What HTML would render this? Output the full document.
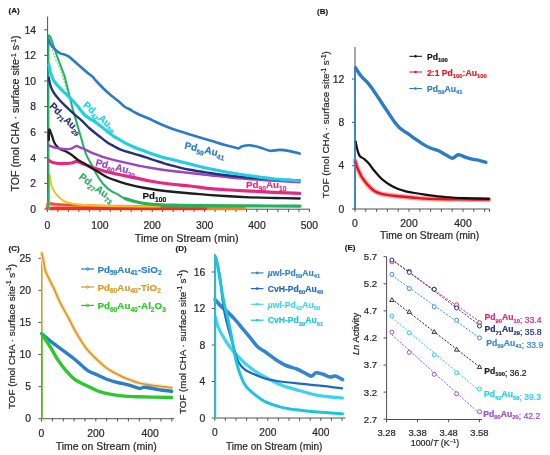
<!DOCTYPE html>
<html><head><meta charset="utf-8"><style>
html,body{margin:0;padding:0;background:#fff;width:550px;height:455px;overflow:hidden;}
svg{display:block;filter:blur(0.3px);font-family:"Liberation Sans", sans-serif;}
</style></head><body>
<svg width="550" height="455" viewBox="0 0 550 455">
<rect width="550" height="455" fill="#ffffff"/>
<text x="8.60" y="13.40" font-size="8.0" fill="#1a1a1a" stroke="#1a1a1a" stroke-width="0.18" font-weight="bold" text-anchor="start" >(A)</text>
<line x1="47.60" y1="16.50" x2="47.60" y2="209.20" stroke="#505050" stroke-width="1.0" />
<line x1="47.60" y1="209.20" x2="310.00" y2="209.20" stroke="#505050" stroke-width="1.0" />
<line x1="44.30" y1="209.00" x2="47.60" y2="209.00" stroke="#505050" stroke-width="1.0" />
<text x="36.00" y="212.70" font-size="10.4" fill="#2a2a2a" stroke="#2a2a2a" stroke-width="0.22" text-anchor="end" >0</text>
<line x1="44.30" y1="183.40" x2="47.60" y2="183.40" stroke="#505050" stroke-width="1.0" />
<text x="36.00" y="187.10" font-size="10.4" fill="#2a2a2a" stroke="#2a2a2a" stroke-width="0.22" text-anchor="end" >2</text>
<line x1="44.30" y1="157.80" x2="47.60" y2="157.80" stroke="#505050" stroke-width="1.0" />
<text x="36.00" y="161.50" font-size="10.4" fill="#2a2a2a" stroke="#2a2a2a" stroke-width="0.22" text-anchor="end" >4</text>
<line x1="44.30" y1="132.20" x2="47.60" y2="132.20" stroke="#505050" stroke-width="1.0" />
<text x="36.00" y="135.90" font-size="10.4" fill="#2a2a2a" stroke="#2a2a2a" stroke-width="0.22" text-anchor="end" >6</text>
<line x1="44.30" y1="106.60" x2="47.60" y2="106.60" stroke="#505050" stroke-width="1.0" />
<text x="36.00" y="110.30" font-size="10.4" fill="#2a2a2a" stroke="#2a2a2a" stroke-width="0.22" text-anchor="end" >8</text>
<line x1="44.30" y1="81.00" x2="47.60" y2="81.00" stroke="#505050" stroke-width="1.0" />
<text x="36.00" y="84.70" font-size="10.4" fill="#2a2a2a" stroke="#2a2a2a" stroke-width="0.22" text-anchor="end" >10</text>
<line x1="44.30" y1="55.40" x2="47.60" y2="55.40" stroke="#505050" stroke-width="1.0" />
<text x="36.00" y="59.10" font-size="10.4" fill="#2a2a2a" stroke="#2a2a2a" stroke-width="0.22" text-anchor="end" >12</text>
<line x1="44.30" y1="29.80" x2="47.60" y2="29.80" stroke="#505050" stroke-width="1.0" />
<text x="36.00" y="33.50" font-size="10.4" fill="#2a2a2a" stroke="#2a2a2a" stroke-width="0.22" text-anchor="end" >14</text>
<line x1="47.40" y1="209.20" x2="47.40" y2="212.00" stroke="#505050" stroke-width="1.0" />
<line x1="57.88" y1="209.20" x2="57.88" y2="212.00" stroke="#505050" stroke-width="1.0" />
<line x1="68.36" y1="209.20" x2="68.36" y2="212.00" stroke="#505050" stroke-width="1.0" />
<line x1="78.84" y1="209.20" x2="78.84" y2="212.00" stroke="#505050" stroke-width="1.0" />
<line x1="89.32" y1="209.20" x2="89.32" y2="212.00" stroke="#505050" stroke-width="1.0" />
<line x1="99.80" y1="209.20" x2="99.80" y2="212.00" stroke="#505050" stroke-width="1.0" />
<line x1="110.28" y1="209.20" x2="110.28" y2="212.00" stroke="#505050" stroke-width="1.0" />
<line x1="120.76" y1="209.20" x2="120.76" y2="212.00" stroke="#505050" stroke-width="1.0" />
<line x1="131.24" y1="209.20" x2="131.24" y2="212.00" stroke="#505050" stroke-width="1.0" />
<line x1="141.72" y1="209.20" x2="141.72" y2="212.00" stroke="#505050" stroke-width="1.0" />
<line x1="152.20" y1="209.20" x2="152.20" y2="212.00" stroke="#505050" stroke-width="1.0" />
<line x1="162.68" y1="209.20" x2="162.68" y2="212.00" stroke="#505050" stroke-width="1.0" />
<line x1="173.16" y1="209.20" x2="173.16" y2="212.00" stroke="#505050" stroke-width="1.0" />
<line x1="183.64" y1="209.20" x2="183.64" y2="212.00" stroke="#505050" stroke-width="1.0" />
<line x1="194.12" y1="209.20" x2="194.12" y2="212.00" stroke="#505050" stroke-width="1.0" />
<line x1="204.60" y1="209.20" x2="204.60" y2="212.00" stroke="#505050" stroke-width="1.0" />
<line x1="215.08" y1="209.20" x2="215.08" y2="212.00" stroke="#505050" stroke-width="1.0" />
<line x1="225.56" y1="209.20" x2="225.56" y2="212.00" stroke="#505050" stroke-width="1.0" />
<line x1="236.04" y1="209.20" x2="236.04" y2="212.00" stroke="#505050" stroke-width="1.0" />
<line x1="246.52" y1="209.20" x2="246.52" y2="212.00" stroke="#505050" stroke-width="1.0" />
<line x1="257.00" y1="209.20" x2="257.00" y2="212.00" stroke="#505050" stroke-width="1.0" />
<line x1="267.48" y1="209.20" x2="267.48" y2="212.00" stroke="#505050" stroke-width="1.0" />
<line x1="277.96" y1="209.20" x2="277.96" y2="212.00" stroke="#505050" stroke-width="1.0" />
<line x1="288.44" y1="209.20" x2="288.44" y2="212.00" stroke="#505050" stroke-width="1.0" />
<line x1="298.92" y1="209.20" x2="298.92" y2="212.00" stroke="#505050" stroke-width="1.0" />
<line x1="309.40" y1="209.20" x2="309.40" y2="212.00" stroke="#505050" stroke-width="1.0" />
<text x="47.40" y="228.80" font-size="10.4" fill="#2a2a2a" stroke="#2a2a2a" stroke-width="0.22" text-anchor="middle" >0</text>
<text x="99.80" y="228.80" font-size="10.4" fill="#2a2a2a" stroke="#2a2a2a" stroke-width="0.22" text-anchor="middle" >100</text>
<text x="152.20" y="228.80" font-size="10.4" fill="#2a2a2a" stroke="#2a2a2a" stroke-width="0.22" text-anchor="middle" >200</text>
<text x="204.60" y="228.80" font-size="10.4" fill="#2a2a2a" stroke="#2a2a2a" stroke-width="0.22" text-anchor="middle" >300</text>
<text x="257.00" y="228.80" font-size="10.4" fill="#2a2a2a" stroke="#2a2a2a" stroke-width="0.22" text-anchor="middle" >400</text>
<text x="309.40" y="228.80" font-size="10.4" fill="#2a2a2a" stroke="#2a2a2a" stroke-width="0.22" text-anchor="middle" >500</text>
<text x="186.70" y="242.00" font-size="10.8" fill="#2a2a2a" stroke="#2a2a2a" stroke-width="0.22" text-anchor="middle" >Time on Stream (min)</text>
<text x="19.30" y="113.50" font-size="10.55" fill="#2a2a2a" stroke="#2a2a2a" stroke-width="0.22" text-anchor="middle" transform="rotate(-90 19.30 113.50)" >TOF (mol CHA · surface site<tspan font-size='6.7' dy='-3.6'>-1</tspan><tspan dy='3.6'> s</tspan><tspan font-size='6.7' dy='-3.6'>-1</tspan><tspan dy='3.6'>)</tspan></text>
<path d="M47.60,207.00 C47.73,206.42 48.00,204.00 48.40,203.50 C48.80,203.00 48.73,203.75 50.00,204.00 C51.27,204.25 52.67,204.70 56.00,205.00 C59.33,205.30 62.67,205.53 70.00,205.80 C77.33,206.07 86.67,206.35 100.00,206.60 C113.33,206.85 132.50,207.10 150.00,207.30 C167.50,207.50 195.83,207.72 205.00,207.80" fill="none" stroke="#f69080" stroke-width="4.4" stroke-linejoin="round" stroke-linecap="round" />
<polyline points="205.00,208.60 244.50,208.60" fill="none" stroke="#f5821f" stroke-width="3.2" stroke-linejoin="round" stroke-linecap="round" />
<path d="M47.60,208.60 C49.67,208.60 47.93,208.60 60.00,208.60 C72.07,208.60 95.75,208.60 120.00,208.60 C144.25,208.60 191.25,208.60 205.50,208.60" fill="none" stroke="#f0321a" stroke-width="3.4" stroke-linejoin="round" stroke-linecap="round" />
<path d="M47.60,206.00 C47.73,205.42 48.00,202.97 48.40,202.50 C48.80,202.03 48.23,202.87 50.00,203.20 C51.77,203.53 54.00,204.13 59.00,204.50 C64.00,204.87 69.83,205.10 80.00,205.40 C90.17,205.70 99.17,206.00 120.00,206.30 C140.83,206.60 190.83,207.05 205.00,207.20" fill="none" stroke="#f04a3a" stroke-width="2.0" stroke-linejoin="round" stroke-linecap="round" />
<path d="M48.80,209.00 C48.88,203.50 49.02,180.67 49.30,176.00 C49.58,171.33 50.05,179.17 50.50,181.00 C50.95,182.83 51.42,185.33 52.00,187.00 C52.58,188.67 53.17,189.67 54.00,191.00 C54.83,192.33 55.83,193.67 57.00,195.00 C58.17,196.33 59.50,197.83 61.00,199.00 C62.50,200.17 63.83,201.17 66.00,202.00 C68.17,202.83 71.00,203.50 74.00,204.00 C77.00,204.50 79.83,204.70 84.00,205.00 C88.17,205.30 91.33,205.58 99.00,205.80 C106.67,206.02 119.83,206.17 130.00,206.30 C140.17,206.43 155.00,206.55 160.00,206.60" fill="none" stroke="#f6c21c" stroke-width="2.0" stroke-linejoin="round" stroke-linecap="round" />
<polyline points="48.60,209.00 48.60,36.50" fill="none" stroke="#22b35e" stroke-width="1.6" stroke-linejoin="round" stroke-linecap="round" />
<path d="M48.60,36.50 C48.72,36.28 48.90,34.90 49.30,35.20 C49.70,35.50 50.40,36.83 51.00,38.30 C51.60,39.77 51.93,41.13 52.90,44.00 C53.87,46.87 55.52,51.88 56.80,55.50 C58.08,59.12 59.33,62.30 60.60,65.70 C61.87,69.10 63.17,71.85 64.40,75.90 C65.63,79.95 66.98,85.98 68.00,90.00 C69.02,94.02 69.67,96.67 70.50,100.00 C71.33,103.33 72.00,106.33 73.00,110.00 C74.00,113.67 75.33,118.00 76.50,122.00 C77.67,126.00 78.42,128.67 80.00,134.00 C81.58,139.33 83.93,148.67 86.00,154.00 C88.07,159.33 90.72,162.77 92.40,166.00 C94.08,169.23 94.70,170.93 96.10,173.40 C97.50,175.87 99.25,178.65 100.80,180.80 C102.35,182.95 103.72,184.62 105.40,186.30 C107.08,187.98 108.80,189.52 110.90,190.90 C113.00,192.28 115.65,193.33 118.00,194.60 C120.35,195.87 122.17,197.35 125.00,198.50 C127.83,199.65 131.67,200.67 135.00,201.50 C138.33,202.33 140.83,202.95 145.00,203.50 C149.17,204.05 154.17,204.50 160.00,204.80 C165.83,205.10 173.33,205.17 180.00,205.30 C186.67,205.43 188.33,205.50 200.00,205.60 C211.67,205.70 233.33,205.82 250.00,205.90 C266.67,205.98 291.67,206.07 300.00,206.10" fill="none" stroke="#22b35e" stroke-width="2.0" stroke-linejoin="round" stroke-linecap="round" />
<path d="M125.00,198.50 C126.67,199.00 131.67,200.67 135.00,201.50 C138.33,202.33 140.83,202.95 145.00,203.50 C149.17,204.05 154.17,204.50 160.00,204.80 C165.83,205.10 173.33,205.17 180.00,205.30 C186.67,205.43 188.33,205.50 200.00,205.60 C211.67,205.70 233.33,205.82 250.00,205.90 C266.67,205.98 291.67,206.07 300.00,206.10" fill="none" stroke="#22b35e" stroke-width="3.2" stroke-linejoin="round" stroke-linecap="round" />
<path d="M50.50,40.00 C50.90,41.95 51.85,48.05 52.90,51.70 C53.95,55.35 55.42,58.50 56.80,61.90 C58.18,65.30 59.83,68.28 61.20,72.10 C62.57,75.92 63.53,80.15 65.00,84.80 C66.47,89.45 69.17,97.47 70.00,100.00" fill="none" stroke="#7fd8a0" stroke-width="1.2" stroke-linejoin="round" stroke-linecap="round" stroke-dasharray="1.2 2.2"/>
<path d="M48.80,160.30 C49.47,160.67 50.85,161.95 52.80,162.50 C54.75,163.05 57.38,163.52 60.50,163.60 C63.62,163.68 68.75,163.37 71.50,163.00 C74.25,162.63 75.17,161.30 77.00,161.40 C78.83,161.50 80.67,162.87 82.50,163.60 C84.33,164.33 86.25,165.10 88.00,165.80 C89.75,166.50 91.00,167.13 93.00,167.80 C95.00,168.47 97.38,169.07 100.00,169.80 C102.62,170.53 104.47,171.18 108.70,172.20 C112.93,173.22 120.52,174.87 125.40,175.90 C130.28,176.93 133.90,177.55 138.00,178.40 C142.10,179.25 144.67,180.07 150.00,181.00 C155.33,181.93 163.33,183.17 170.00,184.00 C176.67,184.83 183.33,185.23 190.00,186.00 C196.67,186.77 203.33,187.93 210.00,188.60 C216.67,189.27 221.67,189.50 230.00,190.00 C238.33,190.50 251.67,191.17 260.00,191.60 C268.33,192.03 273.38,192.30 280.00,192.60 C286.62,192.90 296.42,193.27 299.70,193.40" fill="none" stroke="#e8287e" stroke-width="3.2" stroke-linejoin="round" stroke-linecap="round" />
<path d="M48.80,140.00 C48.87,138.27 48.72,130.43 49.20,129.60 C49.68,128.77 50.92,133.00 51.70,135.00 C52.48,137.00 53.17,139.87 53.90,141.60 C54.63,143.33 55.00,144.12 56.10,145.40 C57.20,146.68 58.85,148.28 60.50,149.30 C62.15,150.32 64.17,150.58 66.00,151.50 C67.83,152.42 69.67,153.52 71.50,154.80 C73.33,156.08 75.17,157.92 77.00,159.20 C78.83,160.48 80.67,161.40 82.50,162.50 C84.33,163.60 86.08,164.65 88.00,165.80 C89.92,166.95 92.00,168.20 94.00,169.40 C96.00,170.60 97.78,171.68 100.00,173.00 C102.22,174.32 104.00,175.83 107.30,177.30 C110.60,178.77 115.63,180.45 119.80,181.80 C123.97,183.15 128.13,184.37 132.30,185.40 C136.47,186.43 140.65,187.23 144.80,188.00 C148.95,188.77 152.17,189.33 157.20,190.00 C162.23,190.67 167.88,191.30 175.00,192.00 C182.12,192.70 191.58,193.53 199.90,194.20 C208.22,194.87 216.58,195.48 224.90,196.00 C233.22,196.52 241.48,196.97 249.80,197.30 C258.12,197.63 266.48,197.80 274.80,198.00 C283.12,198.20 295.55,198.42 299.70,198.50" fill="none" stroke="#1e1e1e" stroke-width="2.3" stroke-linejoin="round" stroke-linecap="round" />
<path d="M48.80,145.40 C49.83,145.77 53.05,147.05 55.00,147.60 C56.95,148.15 58.67,148.42 60.50,148.70 C62.33,148.98 64.17,149.30 66.00,149.30 C67.83,149.30 69.77,149.25 71.50,148.70 C73.23,148.15 74.93,146.18 76.40,146.00 C77.87,145.82 78.73,146.97 80.30,147.60 C81.87,148.23 83.85,148.93 85.80,149.80 C87.75,150.67 89.63,151.80 92.00,152.80 C94.37,153.80 97.22,154.83 100.00,155.80 C102.78,156.77 104.47,157.45 108.70,158.60 C112.93,159.75 120.52,161.55 125.40,162.70 C130.28,163.85 133.90,164.65 138.00,165.50 C142.10,166.35 144.67,166.92 150.00,167.80 C155.33,168.68 163.33,169.93 170.00,170.80 C176.67,171.67 183.33,172.27 190.00,173.00 C196.67,173.73 203.33,174.43 210.00,175.20 C216.67,175.97 223.33,176.93 230.00,177.60 C236.67,178.27 242.53,178.67 250.00,179.20 C257.47,179.73 266.52,180.30 274.80,180.80 C283.08,181.30 295.55,181.97 299.70,182.20" fill="none" stroke="#9a46c2" stroke-width="2.4" stroke-linejoin="round" stroke-linecap="round" />
<path d="M48.80,77.80 C49.00,78.83 49.47,82.05 50.00,84.00 C50.53,85.95 51.17,87.75 52.00,89.50 C52.83,91.25 53.67,92.67 55.00,94.50 C56.33,96.33 58.28,98.62 60.00,100.50 C61.72,102.38 62.80,103.42 65.30,105.80 C67.80,108.18 72.25,112.33 75.00,114.80 C77.75,117.27 79.35,118.32 81.80,120.60 C84.25,122.88 86.78,125.90 89.70,128.50 C92.62,131.10 96.42,133.92 99.30,136.20 C102.18,138.48 104.55,140.53 107.00,142.20 C109.45,143.87 111.83,145.02 114.00,146.20 C116.17,147.38 117.33,148.23 120.00,149.30 C122.67,150.37 126.67,151.57 130.00,152.60 C133.33,153.63 136.67,154.47 140.00,155.50 C143.33,156.53 146.67,157.72 150.00,158.80 C153.33,159.88 156.67,160.97 160.00,162.00 C163.33,163.03 165.00,163.70 170.00,165.00 C175.00,166.30 183.33,168.47 190.00,169.80 C196.67,171.13 203.33,172.00 210.00,173.00 C216.67,174.00 223.33,175.00 230.00,175.80 C236.67,176.60 242.53,177.18 250.00,177.80 C257.47,178.42 266.52,179.05 274.80,179.50 C283.08,179.95 295.55,180.33 299.70,180.50" fill="none" stroke="#24307e" stroke-width="2.4" stroke-linejoin="round" stroke-linecap="round" />
<path d="M48.80,64.40 C49.07,65.68 49.78,69.83 50.40,72.10 C51.02,74.37 51.90,76.52 52.50,78.00 C53.10,79.48 53.08,79.67 54.00,81.00 C54.92,82.33 56.50,84.33 58.00,86.00 C59.50,87.67 61.33,89.33 63.00,91.00 C64.67,92.67 66.33,94.33 68.00,96.00 C69.67,97.67 71.33,99.25 73.00,101.00 C74.67,102.75 76.83,105.08 78.00,106.50 C79.17,107.92 78.87,108.08 80.00,109.50 C81.13,110.92 83.18,113.48 84.80,115.00 C86.42,116.52 88.08,117.53 89.70,118.60 C91.32,119.67 92.90,120.33 94.50,121.40 C96.10,122.47 97.53,123.63 99.30,125.00 C101.07,126.37 103.48,128.30 105.10,129.60 C106.72,130.90 107.55,131.67 109.00,132.80 C110.45,133.93 112.18,135.33 113.80,136.40 C115.42,137.47 116.83,138.13 118.70,139.20 C120.57,140.27 122.28,141.42 125.00,142.80 C127.72,144.18 131.67,146.08 135.00,147.50 C138.33,148.92 142.50,150.35 145.00,151.30 C147.50,152.25 147.50,152.33 150.00,153.20 C152.50,154.07 156.67,155.53 160.00,156.50 C163.33,157.47 165.00,157.75 170.00,159.00 C175.00,160.25 183.33,162.37 190.00,164.00 C196.67,165.63 203.33,167.33 210.00,168.80 C216.67,170.27 223.33,171.63 230.00,172.80 C236.67,173.97 242.53,174.77 250.00,175.80 C257.47,176.83 266.52,178.17 274.80,179.00 C283.08,179.83 295.55,180.50 299.70,180.80" fill="none" stroke="#1fd0e2" stroke-width="3.1" stroke-linejoin="round" stroke-linecap="round" />
<path d="M48.80,39.60 C49.07,40.33 49.72,42.73 50.40,44.00 C51.08,45.27 51.83,46.03 52.90,47.20 C53.97,48.37 55.52,49.93 56.80,51.00 C58.08,52.07 59.33,53.03 60.60,53.60 C61.87,54.17 63.13,53.98 64.40,54.40 C65.67,54.82 66.92,55.28 68.20,56.10 C69.48,56.92 70.60,58.02 72.10,59.30 C73.60,60.58 75.50,62.30 77.20,63.80 C78.90,65.30 80.60,66.82 82.30,68.30 C84.00,69.78 85.70,71.32 87.40,72.70 C89.10,74.08 91.23,75.45 92.50,76.60 C93.77,77.75 93.75,78.20 95.00,79.60 C96.25,81.00 98.33,83.27 100.00,85.00 C101.67,86.73 103.33,88.42 105.00,90.00 C106.67,91.58 108.33,93.08 110.00,94.50 C111.67,95.92 113.33,97.17 115.00,98.50 C116.67,99.83 118.33,101.08 120.00,102.50 C121.67,103.92 123.33,105.83 125.00,107.00 C126.67,108.17 128.33,108.58 130.00,109.50 C131.67,110.42 133.33,111.58 135.00,112.50 C136.67,113.42 138.33,114.25 140.00,115.00 C141.67,115.75 143.33,116.33 145.00,117.00 C146.67,117.67 148.33,118.25 150.00,119.00 C151.67,119.75 152.50,120.33 155.00,121.50 C157.50,122.67 161.67,124.62 165.00,126.00 C168.33,127.38 171.25,128.52 175.00,129.80 C178.75,131.08 183.35,132.43 187.50,133.70 C191.65,134.97 195.75,136.17 199.90,137.40 C204.05,138.63 208.23,139.85 212.40,141.10 C216.57,142.35 221.15,143.85 224.90,144.90 C228.65,145.95 232.62,146.82 234.90,147.40 C237.18,147.98 237.37,148.58 238.60,148.40 C239.83,148.22 240.43,146.83 242.30,146.30 C244.17,145.77 246.88,145.02 249.80,145.20 C252.72,145.38 256.47,146.47 259.80,147.40 C263.13,148.33 266.48,150.38 269.80,150.80 C273.12,151.22 276.38,149.85 279.70,149.90 C283.02,149.95 286.37,150.48 289.70,151.10 C293.03,151.72 298.03,153.18 299.70,153.60" fill="none" stroke="#2a7cc7" stroke-width="2.6" stroke-linejoin="round" stroke-linecap="round" />
<text x="184.10" y="148.50" font-size="10.0" fill="#2a7cc7" stroke="#2a7cc7" stroke-width="0.18" font-weight="bold" text-anchor="start" transform="rotate(13 184.10 148.50)" ><tspan>Pd</tspan><tspan font-size="6.80" dy="2.80">59</tspan><tspan dy="-2.80">Au</tspan><tspan font-size="6.80" dy="2.80">41</tspan></text>
<text x="246.00" y="188.20" font-size="9.8" fill="#e8287e" stroke="#e8287e" stroke-width="0.18" font-weight="bold" text-anchor="start" transform="rotate(0 246.00 188.20)" ><tspan>Pd</tspan><tspan font-size="6.66" dy="2.74">90</tspan><tspan dy="-2.74">Au</tspan><tspan font-size="6.66" dy="2.74">10</tspan></text>
<text x="142.50" y="199.20" font-size="9.8" fill="#111111" stroke="#111111" stroke-width="0.18" font-weight="bold" text-anchor="start" ><tspan>Pd</tspan><tspan font-size="6.66" dy="2.74">100</tspan></text>
<text x="94.90" y="165.40" font-size="10.0" fill="#9a46c2" stroke="#9a46c2" stroke-width="0.18" font-weight="bold" text-anchor="start" transform="rotate(14 94.90 165.40)" ><tspan>Pd</tspan><tspan font-size="6.80" dy="2.80">80</tspan><tspan dy="-2.80">Au</tspan><tspan font-size="6.80" dy="2.80">20</tspan></text>
<text x="78.20" y="177.90" font-size="10.0" fill="#22b35e" stroke="#22b35e" stroke-width="0.18" font-weight="bold" text-anchor="start" transform="rotate(37 78.20 177.90)" ><tspan>Pd</tspan><tspan font-size="6.80" dy="2.80">27</tspan><tspan dy="-2.80">Au</tspan><tspan font-size="6.80" dy="2.80">73</tspan></text>
<text x="48.90" y="106.80" font-size="9.8" fill="#24307e" stroke="#24307e" stroke-width="0.18" font-weight="bold" text-anchor="start" transform="rotate(44 48.90 106.80)" ><tspan>Pd</tspan><tspan font-size="6.66" dy="2.74">71</tspan><tspan dy="-2.74">Au</tspan><tspan font-size="6.66" dy="2.74">29</tspan></text>
<text x="82.60" y="106.00" font-size="9.8" fill="#1fd0e2" stroke="#1fd0e2" stroke-width="0.18" font-weight="bold" text-anchor="start" transform="rotate(41 82.60 106.00)" ><tspan>Pd</tspan><tspan font-size="6.66" dy="2.74">42</tspan><tspan dy="-2.74">Au</tspan><tspan font-size="6.66" dy="2.74">58</tspan></text>
<text x="317.00" y="14.20" font-size="8.0" fill="#1a1a1a" stroke="#1a1a1a" stroke-width="0.18" font-weight="bold" text-anchor="start" >(B)</text>
<line x1="355.00" y1="47.00" x2="355.00" y2="209.30" stroke="#505050" stroke-width="1.0" />
<line x1="355.00" y1="209.00" x2="489.50" y2="209.00" stroke="#505050" stroke-width="1.0" />
<line x1="352.00" y1="209.00" x2="355.00" y2="209.00" stroke="#505050" stroke-width="1.0" />
<text x="344.30" y="212.70" font-size="10.4" fill="#2a2a2a" stroke="#2a2a2a" stroke-width="0.22" text-anchor="end" >0</text>
<line x1="352.00" y1="165.68" x2="355.00" y2="165.68" stroke="#505050" stroke-width="1.0" />
<text x="344.30" y="169.38" font-size="10.4" fill="#2a2a2a" stroke="#2a2a2a" stroke-width="0.22" text-anchor="end" >4</text>
<line x1="352.00" y1="122.36" x2="355.00" y2="122.36" stroke="#505050" stroke-width="1.0" />
<text x="344.30" y="126.06" font-size="10.4" fill="#2a2a2a" stroke="#2a2a2a" stroke-width="0.22" text-anchor="end" >8</text>
<line x1="352.00" y1="79.04" x2="355.00" y2="79.04" stroke="#505050" stroke-width="1.0" />
<text x="344.30" y="82.74" font-size="10.4" fill="#2a2a2a" stroke="#2a2a2a" stroke-width="0.22" text-anchor="end" >12</text>
<line x1="355.00" y1="209.00" x2="355.00" y2="211.80" stroke="#505050" stroke-width="1.0" />
<line x1="365.80" y1="209.00" x2="365.80" y2="211.80" stroke="#505050" stroke-width="1.0" />
<line x1="376.60" y1="209.00" x2="376.60" y2="211.80" stroke="#505050" stroke-width="1.0" />
<line x1="387.40" y1="209.00" x2="387.40" y2="211.80" stroke="#505050" stroke-width="1.0" />
<line x1="398.20" y1="209.00" x2="398.20" y2="211.80" stroke="#505050" stroke-width="1.0" />
<line x1="409.00" y1="209.00" x2="409.00" y2="211.80" stroke="#505050" stroke-width="1.0" />
<line x1="419.80" y1="209.00" x2="419.80" y2="211.80" stroke="#505050" stroke-width="1.0" />
<line x1="430.60" y1="209.00" x2="430.60" y2="211.80" stroke="#505050" stroke-width="1.0" />
<line x1="441.40" y1="209.00" x2="441.40" y2="211.80" stroke="#505050" stroke-width="1.0" />
<line x1="452.20" y1="209.00" x2="452.20" y2="211.80" stroke="#505050" stroke-width="1.0" />
<line x1="463.00" y1="209.00" x2="463.00" y2="211.80" stroke="#505050" stroke-width="1.0" />
<line x1="473.80" y1="209.00" x2="473.80" y2="211.80" stroke="#505050" stroke-width="1.0" />
<line x1="484.60" y1="209.00" x2="484.60" y2="211.80" stroke="#505050" stroke-width="1.0" />
<line x1="489.50" y1="209.00" x2="489.50" y2="211.80" stroke="#505050" stroke-width="1.0" />
<text x="355.00" y="227.00" font-size="10.4" fill="#2a2a2a" stroke="#2a2a2a" stroke-width="0.22" text-anchor="middle" >0</text>
<text x="409.00" y="227.00" font-size="10.4" fill="#2a2a2a" stroke="#2a2a2a" stroke-width="0.22" text-anchor="middle" >200</text>
<text x="463.00" y="227.00" font-size="10.4" fill="#2a2a2a" stroke="#2a2a2a" stroke-width="0.22" text-anchor="middle" >400</text>
<text x="429.70" y="238.80" font-size="10.3" fill="#2a2a2a" stroke="#2a2a2a" stroke-width="0.22" text-anchor="middle" >Time on Stream (min)</text>
<text x="329.00" y="124.70" font-size="9.95" fill="#2a2a2a" stroke="#2a2a2a" stroke-width="0.22" text-anchor="middle" transform="rotate(-90 329.00 124.70)" >TOF (mol CHA · surface site<tspan font-size='6.3' dy='-3.4'>-1</tspan><tspan dy='3.4'> s</tspan><tspan font-size='6.3' dy='-3.4'>-1</tspan><tspan dy='3.4'>)</tspan></text>
<path d="M355.30,161.00 C355.50,161.75 356.02,164.03 356.50,165.50 C356.98,166.97 357.42,168.05 358.20,169.80 C358.98,171.55 360.18,174.20 361.20,176.00 C362.22,177.80 363.27,179.18 364.30,180.60 C365.33,182.02 366.12,183.08 367.40,184.50 C368.68,185.92 370.47,187.82 372.00,189.10 C373.53,190.38 374.80,191.35 376.60,192.20 C378.40,193.05 380.48,193.67 382.80,194.20 C385.12,194.73 387.93,195.07 390.50,195.40 C393.07,195.73 394.62,195.85 398.20,196.20 C401.78,196.55 407.53,197.10 412.00,197.50 C416.47,197.90 419.50,198.32 425.00,198.60 C430.50,198.88 438.33,199.07 445.00,199.20 C451.67,199.33 457.67,199.33 465.00,199.40 C472.33,199.47 485.00,199.57 489.00,199.60" fill="none" stroke="#f7a8a8" stroke-width="5.0" stroke-linejoin="round" stroke-linecap="round" />
<path d="M355.30,161.00 C355.50,161.75 356.02,164.03 356.50,165.50 C356.98,166.97 357.42,168.05 358.20,169.80 C358.98,171.55 360.18,174.20 361.20,176.00 C362.22,177.80 363.27,179.18 364.30,180.60 C365.33,182.02 366.12,183.08 367.40,184.50 C368.68,185.92 370.47,187.82 372.00,189.10 C373.53,190.38 374.80,191.35 376.60,192.20 C378.40,193.05 380.48,193.67 382.80,194.20 C385.12,194.73 387.93,195.07 390.50,195.40 C393.07,195.73 394.62,195.85 398.20,196.20 C401.78,196.55 407.53,197.10 412.00,197.50 C416.47,197.90 419.50,198.32 425.00,198.60 C430.50,198.88 438.33,199.07 445.00,199.20 C451.67,199.33 457.67,199.33 465.00,199.40 C472.33,199.47 485.00,199.57 489.00,199.60" fill="none" stroke="#e8141c" stroke-width="2.4" stroke-linejoin="round" stroke-linecap="round" />
<path d="M355.60,141.30 C355.63,141.45 355.50,140.78 355.80,142.20 C356.10,143.62 356.75,147.50 357.40,149.80 C358.05,152.10 358.55,154.45 359.70,156.00 C360.85,157.55 362.75,157.82 364.30,159.10 C365.85,160.38 367.47,161.92 369.00,163.70 C370.53,165.48 371.97,167.88 373.50,169.80 C375.03,171.72 376.65,173.53 378.20,175.20 C379.75,176.87 380.75,178.13 382.80,179.80 C384.85,181.47 387.93,183.65 390.50,185.20 C393.07,186.75 395.65,188.07 398.20,189.10 C400.75,190.13 403.50,190.82 405.80,191.40 C408.10,191.98 408.80,192.07 412.00,192.60 C415.20,193.13 419.50,193.87 425.00,194.60 C430.50,195.33 438.33,196.40 445.00,197.00 C451.67,197.60 457.67,197.90 465.00,198.20 C472.33,198.50 485.00,198.70 489.00,198.80" fill="none" stroke="#111" stroke-width="2.2" stroke-linejoin="round" stroke-linecap="round" />
<polyline points="355.00,209.00 355.00,67.70" fill="none" stroke="#2a7cc7" stroke-width="1.6" stroke-linejoin="round" stroke-linecap="round" />
<path d="M355.60,67.70 C356.17,68.62 357.85,71.55 359.00,73.20 C360.15,74.85 361.03,76.00 362.50,77.60 C363.97,79.20 366.03,80.75 367.80,82.80 C369.57,84.85 371.33,87.40 373.10,89.90 C374.87,92.40 376.65,95.17 378.40,97.80 C380.15,100.43 381.85,103.07 383.60,105.70 C385.35,108.33 387.13,110.97 388.90,113.60 C390.67,116.23 392.43,119.15 394.20,121.50 C395.97,123.85 397.75,126.02 399.50,127.70 C401.25,129.38 403.28,130.60 404.70,131.60 C406.12,132.60 406.18,132.45 408.00,133.70 C409.82,134.95 413.05,137.32 415.60,139.10 C418.15,140.88 420.75,142.88 423.30,144.40 C425.85,145.92 428.37,147.13 430.90,148.20 C433.43,149.27 435.95,149.65 438.50,150.80 C441.05,151.95 443.90,153.87 446.20,155.10 C448.50,156.33 450.27,158.25 452.30,158.20 C454.33,158.15 456.12,154.93 458.40,154.80 C460.68,154.67 463.72,156.67 466.00,157.40 C468.28,158.13 470.07,158.73 472.10,159.20 C474.13,159.67 475.90,159.67 478.20,160.20 C480.50,160.73 484.62,162.03 485.90,162.40" fill="none" stroke="#2a7cc7" stroke-width="3.4" stroke-linejoin="round" stroke-linecap="round" />
<line x1="409.30" y1="56.30" x2="422.00" y2="56.30" stroke="#111" stroke-width="1.0" />
<circle cx="415.6" cy="56.3" r="1.2" fill="#111"/>
<line x1="409.30" y1="72.00" x2="422.00" y2="72.00" stroke="#e8141c" stroke-width="1.0" />
<circle cx="415.6" cy="72.0" r="1.2" fill="#e8141c"/>
<line x1="409.30" y1="88.50" x2="422.00" y2="88.50" stroke="#2a7cc7" stroke-width="1.0" />
<circle cx="415.6" cy="88.5" r="1.2" fill="#2a7cc7"/>
<text x="427.00" y="59.80" font-size="8.6" fill="#111" stroke="#111" stroke-width="0.18" font-weight="bold" text-anchor="start" ><tspan>Pd</tspan><tspan font-size="5.85" dy="2.41">100</tspan></text>
<text x="427.00" y="75.60" font-size="8.6" fill="#e8141c" stroke="#e8141c" stroke-width="0.18" font-weight="bold" text-anchor="start" >2:1 <tspan>Pd</tspan><tspan font-size="5.85" dy="2.41">100</tspan><tspan dy="-2.41">:Au</tspan><tspan font-size="5.85" dy="2.41">100</tspan></text>
<text x="427.00" y="92.00" font-size="8.6" fill="#2a7cc7" stroke="#2a7cc7" stroke-width="0.18" font-weight="bold" text-anchor="start" ><tspan>Pd</tspan><tspan font-size="5.85" dy="2.41">59</tspan><tspan dy="-2.41">Au</tspan><tspan font-size="5.85" dy="2.41">41</tspan></text>
<text x="8.50" y="251.40" font-size="8.0" fill="#1a1a1a" stroke="#1a1a1a" stroke-width="0.18" font-weight="bold" text-anchor="start" >(C)</text>
<line x1="41.50" y1="252.50" x2="41.50" y2="418.90" stroke="#505050" stroke-width="1.0" />
<line x1="41.50" y1="418.70" x2="174.30" y2="418.70" stroke="#505050" stroke-width="1.0" />
<line x1="38.50" y1="418.70" x2="41.50" y2="418.70" stroke="#505050" stroke-width="1.0" />
<text x="31.00" y="422.40" font-size="10.4" fill="#2a2a2a" stroke="#2a2a2a" stroke-width="0.22" text-anchor="end" >0</text>
<line x1="38.50" y1="386.62" x2="41.50" y2="386.62" stroke="#505050" stroke-width="1.0" />
<text x="31.00" y="390.32" font-size="10.4" fill="#2a2a2a" stroke="#2a2a2a" stroke-width="0.22" text-anchor="end" >5</text>
<line x1="38.50" y1="354.54" x2="41.50" y2="354.54" stroke="#505050" stroke-width="1.0" />
<text x="31.00" y="358.24" font-size="10.4" fill="#2a2a2a" stroke="#2a2a2a" stroke-width="0.22" text-anchor="end" >10</text>
<line x1="38.50" y1="322.46" x2="41.50" y2="322.46" stroke="#505050" stroke-width="1.0" />
<text x="31.00" y="326.16" font-size="10.4" fill="#2a2a2a" stroke="#2a2a2a" stroke-width="0.22" text-anchor="end" >15</text>
<line x1="38.50" y1="290.38" x2="41.50" y2="290.38" stroke="#505050" stroke-width="1.0" />
<text x="31.00" y="294.08" font-size="10.4" fill="#2a2a2a" stroke="#2a2a2a" stroke-width="0.22" text-anchor="end" >20</text>
<line x1="38.50" y1="258.30" x2="41.50" y2="258.30" stroke="#505050" stroke-width="1.0" />
<text x="31.00" y="262.00" font-size="10.4" fill="#2a2a2a" stroke="#2a2a2a" stroke-width="0.22" text-anchor="end" >25</text>
<line x1="41.50" y1="418.70" x2="41.50" y2="421.50" stroke="#505050" stroke-width="1.0" />
<line x1="52.36" y1="418.70" x2="52.36" y2="421.50" stroke="#505050" stroke-width="1.0" />
<line x1="63.22" y1="418.70" x2="63.22" y2="421.50" stroke="#505050" stroke-width="1.0" />
<line x1="74.08" y1="418.70" x2="74.08" y2="421.50" stroke="#505050" stroke-width="1.0" />
<line x1="84.94" y1="418.70" x2="84.94" y2="421.50" stroke="#505050" stroke-width="1.0" />
<line x1="95.80" y1="418.70" x2="95.80" y2="421.50" stroke="#505050" stroke-width="1.0" />
<line x1="106.66" y1="418.70" x2="106.66" y2="421.50" stroke="#505050" stroke-width="1.0" />
<line x1="117.52" y1="418.70" x2="117.52" y2="421.50" stroke="#505050" stroke-width="1.0" />
<line x1="128.38" y1="418.70" x2="128.38" y2="421.50" stroke="#505050" stroke-width="1.0" />
<line x1="139.24" y1="418.70" x2="139.24" y2="421.50" stroke="#505050" stroke-width="1.0" />
<line x1="150.10" y1="418.70" x2="150.10" y2="421.50" stroke="#505050" stroke-width="1.0" />
<line x1="160.96" y1="418.70" x2="160.96" y2="421.50" stroke="#505050" stroke-width="1.0" />
<line x1="171.82" y1="418.70" x2="171.82" y2="421.50" stroke="#505050" stroke-width="1.0" />
<text x="41.50" y="436.60" font-size="10.4" fill="#2a2a2a" stroke="#2a2a2a" stroke-width="0.22" text-anchor="middle" >0</text>
<text x="95.80" y="436.60" font-size="10.4" fill="#2a2a2a" stroke="#2a2a2a" stroke-width="0.22" text-anchor="middle" >200</text>
<text x="150.10" y="436.60" font-size="10.4" fill="#2a2a2a" stroke="#2a2a2a" stroke-width="0.22" text-anchor="middle" >400</text>
<text x="106.30" y="449.60" font-size="10.5" fill="#2a2a2a" stroke="#2a2a2a" stroke-width="0.22" text-anchor="middle" >Time on Stream (min)</text>
<text x="14.80" y="336.50" font-size="9.8" fill="#2a2a2a" stroke="#2a2a2a" stroke-width="0.22" text-anchor="middle" transform="rotate(-90 14.80 336.50)" >TOF (mol CHA · surface site<tspan font-size='6.3' dy='-3.4'>-1</tspan><tspan dy='3.4'> s</tspan><tspan font-size='6.3' dy='-3.4'>-1</tspan><tspan dy='3.4'>)</tspan></text>
<polyline points="41.80,418.70 41.80,254.00" fill="none" stroke="#d79a26" stroke-width="1.6" stroke-linejoin="round" stroke-linecap="round" />
<path d="M41.80,253.30 C42.08,254.58 42.95,258.25 43.50,261.00 C44.05,263.75 44.37,267.23 45.10,269.80 C45.83,272.37 46.88,274.20 47.90,276.40 C48.92,278.60 50.10,280.80 51.20,283.00 C52.30,285.20 53.38,287.12 54.50,289.60 C55.62,292.08 56.45,294.77 57.90,297.90 C59.35,301.03 61.45,305.10 63.20,308.40 C64.95,311.70 66.65,314.40 68.40,317.70 C70.15,321.00 71.93,324.92 73.70,328.20 C75.47,331.48 77.02,334.17 79.00,337.40 C80.98,340.63 83.77,345.07 85.60,347.60 C87.43,350.13 87.93,350.43 90.00,352.60 C92.07,354.77 95.33,358.10 98.00,360.60 C100.67,363.10 103.33,365.60 106.00,367.60 C108.67,369.60 111.33,371.10 114.00,372.60 C116.67,374.10 119.33,375.40 122.00,376.60 C124.67,377.80 127.33,378.78 130.00,379.80 C132.67,380.82 135.33,381.93 138.00,382.70 C140.67,383.47 143.33,383.92 146.00,384.40 C148.67,384.88 151.33,385.22 154.00,385.60 C156.67,385.98 159.07,386.35 162.00,386.70 C164.93,387.05 170.00,387.53 171.60,387.70" fill="none" stroke="#f6e3bb" stroke-width="4.2" stroke-linejoin="round" stroke-linecap="round" />
<path d="M41.80,253.30 C42.08,254.58 42.95,258.25 43.50,261.00 C44.05,263.75 44.37,267.23 45.10,269.80 C45.83,272.37 46.88,274.20 47.90,276.40 C48.92,278.60 50.10,280.80 51.20,283.00 C52.30,285.20 53.38,287.12 54.50,289.60 C55.62,292.08 56.45,294.77 57.90,297.90 C59.35,301.03 61.45,305.10 63.20,308.40 C64.95,311.70 66.65,314.40 68.40,317.70 C70.15,321.00 71.93,324.92 73.70,328.20 C75.47,331.48 77.02,334.17 79.00,337.40 C80.98,340.63 83.77,345.07 85.60,347.60 C87.43,350.13 87.93,350.43 90.00,352.60 C92.07,354.77 95.33,358.10 98.00,360.60 C100.67,363.10 103.33,365.60 106.00,367.60 C108.67,369.60 111.33,371.10 114.00,372.60 C116.67,374.10 119.33,375.40 122.00,376.60 C124.67,377.80 127.33,378.78 130.00,379.80 C132.67,380.82 135.33,381.93 138.00,382.70 C140.67,383.47 143.33,383.92 146.00,384.40 C148.67,384.88 151.33,385.22 154.00,385.60 C156.67,385.98 159.07,386.35 162.00,386.70 C164.93,387.05 170.00,387.53 171.60,387.70" fill="none" stroke="#d79a26" stroke-width="1.7" stroke-linejoin="round" stroke-linecap="round" />
<path d="M41.70,333.70 C43.17,334.95 46.97,338.42 50.50,341.20 C54.03,343.98 58.75,347.28 62.90,350.40 C67.05,353.52 71.25,356.53 75.40,359.90 C79.55,363.27 84.03,368.05 87.80,370.60 C91.57,373.15 94.97,373.80 98.00,375.20 C101.03,376.60 103.33,377.93 106.00,379.00 C108.67,380.07 111.33,380.87 114.00,381.60 C116.67,382.33 119.33,382.77 122.00,383.40 C124.67,384.03 127.07,384.57 130.00,385.40 C132.93,386.23 137.20,388.10 139.60,388.40 C142.00,388.70 142.00,387.13 144.40,387.20 C146.80,387.27 151.07,388.30 154.00,388.80 C156.93,389.30 159.07,389.80 162.00,390.20 C164.93,390.60 170.00,391.03 171.60,391.20" fill="none" stroke="#2a7fcc" stroke-width="3.4" stroke-linejoin="round" stroke-linecap="round" />
<polyline points="41.80,418.70 41.80,333.70" fill="none" stroke="#2cc82c" stroke-width="1.6" stroke-linejoin="round" stroke-linecap="round" />
<path d="M41.70,333.70 C43.17,335.98 47.80,343.03 50.50,347.40 C53.20,351.77 55.42,356.17 57.90,359.90 C60.38,363.63 62.48,366.48 65.40,369.80 C68.32,373.12 71.30,376.90 75.40,379.80 C79.50,382.70 86.23,385.33 90.00,387.20 C93.77,389.07 95.33,389.97 98.00,391.00 C100.67,392.03 102.00,392.58 106.00,393.40 C110.00,394.22 116.67,395.33 122.00,395.90 C127.33,396.47 129.73,396.53 138.00,396.80 C146.27,397.07 166.00,397.38 171.60,397.50" fill="none" stroke="#2cc82c" stroke-width="3.4" stroke-linejoin="round" stroke-linecap="round" />
<line x1="81.00" y1="269.00" x2="94.00" y2="269.00" stroke="#2a7fcc" stroke-width="1.2" />
<circle cx="87.5" cy="269.0" r="1.3" fill="none" stroke="#2a7fcc" stroke-width="0.8"/>
<line x1="81.00" y1="287.00" x2="94.00" y2="287.00" stroke="#d79a26" stroke-width="1.2" />
<circle cx="87.5" cy="287.0" r="1.3" fill="none" stroke="#d79a26" stroke-width="0.8"/>
<line x1="81.00" y1="305.40" x2="94.00" y2="305.40" stroke="#2cc82c" stroke-width="1.2" />
<circle cx="87.5" cy="305.4" r="1.3" fill="none" stroke="#2cc82c" stroke-width="0.8"/>
<text x="97.40" y="272.60" font-size="9.8" fill="#2a7fcc" stroke="#2a7fcc" stroke-width="0.18" font-weight="bold" text-anchor="start" ><tspan>Pd</tspan><tspan font-size="6.66" dy="2.74">59</tspan><tspan dy="-2.74">Au</tspan><tspan font-size="6.66" dy="2.74">41</tspan><tspan dy="-2.74">-SiO</tspan><tspan font-size="6.66" dy="2.74">2</tspan></text>
<text x="97.40" y="290.60" font-size="9.8" fill="#d79a26" stroke="#d79a26" stroke-width="0.18" font-weight="bold" text-anchor="start" ><tspan>Pd</tspan><tspan font-size="6.66" dy="2.74">60</tspan><tspan dy="-2.74">Au</tspan><tspan font-size="6.66" dy="2.74">40</tspan><tspan dy="-2.74">-TiO</tspan><tspan font-size="6.66" dy="2.74">2</tspan></text>
<text x="97.40" y="308.80" font-size="9.8" fill="#2cc82c" stroke="#2cc82c" stroke-width="0.18" font-weight="bold" text-anchor="start" ><tspan>Pd</tspan><tspan font-size="6.66" dy="2.74">60</tspan><tspan dy="-2.74">Au</tspan><tspan font-size="6.66" dy="2.74">40</tspan><tspan dy="-2.74">-Al</tspan><tspan font-size="6.66" dy="2.74">2</tspan><tspan dy="-2.74">O</tspan><tspan font-size="6.66" dy="2.74">3</tspan></text>
<text x="175.50" y="251.20" font-size="8.0" fill="#1a1a1a" stroke="#1a1a1a" stroke-width="0.18" font-weight="bold" text-anchor="start" >(D)</text>
<line x1="214.80" y1="254.00" x2="214.80" y2="418.20" stroke="#505050" stroke-width="1.0" />
<line x1="214.80" y1="418.00" x2="345.50" y2="418.00" stroke="#505050" stroke-width="1.0" />
<line x1="211.80" y1="418.00" x2="214.80" y2="418.00" stroke="#505050" stroke-width="1.0" />
<text x="205.20" y="421.70" font-size="10.4" fill="#2a2a2a" stroke="#2a2a2a" stroke-width="0.22" text-anchor="end" >0</text>
<line x1="211.80" y1="381.50" x2="214.80" y2="381.50" stroke="#505050" stroke-width="1.0" />
<text x="205.20" y="385.20" font-size="10.4" fill="#2a2a2a" stroke="#2a2a2a" stroke-width="0.22" text-anchor="end" >4</text>
<line x1="211.80" y1="345.00" x2="214.80" y2="345.00" stroke="#505050" stroke-width="1.0" />
<text x="205.20" y="348.70" font-size="10.4" fill="#2a2a2a" stroke="#2a2a2a" stroke-width="0.22" text-anchor="end" >8</text>
<line x1="211.80" y1="308.50" x2="214.80" y2="308.50" stroke="#505050" stroke-width="1.0" />
<text x="205.20" y="312.20" font-size="10.4" fill="#2a2a2a" stroke="#2a2a2a" stroke-width="0.22" text-anchor="end" >12</text>
<line x1="211.80" y1="272.00" x2="214.80" y2="272.00" stroke="#505050" stroke-width="1.0" />
<text x="205.20" y="275.70" font-size="10.4" fill="#2a2a2a" stroke="#2a2a2a" stroke-width="0.22" text-anchor="end" >16</text>
<line x1="214.80" y1="418.00" x2="214.80" y2="420.80" stroke="#505050" stroke-width="1.0" />
<line x1="225.40" y1="418.00" x2="225.40" y2="420.80" stroke="#505050" stroke-width="1.0" />
<line x1="236.00" y1="418.00" x2="236.00" y2="420.80" stroke="#505050" stroke-width="1.0" />
<line x1="246.60" y1="418.00" x2="246.60" y2="420.80" stroke="#505050" stroke-width="1.0" />
<line x1="257.20" y1="418.00" x2="257.20" y2="420.80" stroke="#505050" stroke-width="1.0" />
<line x1="267.80" y1="418.00" x2="267.80" y2="420.80" stroke="#505050" stroke-width="1.0" />
<line x1="278.40" y1="418.00" x2="278.40" y2="420.80" stroke="#505050" stroke-width="1.0" />
<line x1="289.00" y1="418.00" x2="289.00" y2="420.80" stroke="#505050" stroke-width="1.0" />
<line x1="299.60" y1="418.00" x2="299.60" y2="420.80" stroke="#505050" stroke-width="1.0" />
<line x1="310.20" y1="418.00" x2="310.20" y2="420.80" stroke="#505050" stroke-width="1.0" />
<line x1="320.80" y1="418.00" x2="320.80" y2="420.80" stroke="#505050" stroke-width="1.0" />
<line x1="331.40" y1="418.00" x2="331.40" y2="420.80" stroke="#505050" stroke-width="1.0" />
<line x1="342.00" y1="418.00" x2="342.00" y2="420.80" stroke="#505050" stroke-width="1.0" />
<text x="214.80" y="435.60" font-size="10.2" fill="#2a2a2a" stroke="#2a2a2a" stroke-width="0.22" text-anchor="middle" >0</text>
<text x="267.80" y="435.60" font-size="10.2" fill="#2a2a2a" stroke="#2a2a2a" stroke-width="0.22" text-anchor="middle" >200</text>
<text x="320.80" y="435.60" font-size="10.2" fill="#2a2a2a" stroke="#2a2a2a" stroke-width="0.22" text-anchor="middle" >400</text>
<text x="274.20" y="449.60" font-size="10.0" fill="#2a2a2a" stroke="#2a2a2a" stroke-width="0.22" text-anchor="middle" >Time on Stream (min)</text>
<text x="185.60" y="341.80" font-size="9.75" fill="#2a2a2a" stroke="#2a2a2a" stroke-width="0.22" text-anchor="middle" transform="rotate(-90 185.60 341.80)" >TOF (mol CHA · surface site<tspan font-size='6.3' dy='-3.3'>-1</tspan><tspan dy='3.3'> s</tspan><tspan font-size='6.3' dy='-3.3'>-1</tspan><tspan dy='3.3'>)</tspan></text>
<path d="M215.20,317.00 C215.70,318.67 216.93,323.83 218.20,327.00 C219.47,330.17 221.27,333.25 222.80,336.00 C224.33,338.75 225.62,340.92 227.40,343.50 C229.18,346.08 231.45,349.08 233.50,351.50 C235.55,353.92 237.65,355.92 239.70,358.00 C241.75,360.08 243.25,361.83 245.80,364.00 C248.35,366.17 251.80,368.83 255.00,371.00 C258.20,373.17 260.40,374.57 265.00,377.00 C269.60,379.43 276.73,383.30 282.60,385.60 C288.47,387.90 294.33,389.18 300.20,390.80 C306.07,392.42 310.75,394.08 317.80,395.30 C324.85,396.52 338.38,397.63 342.50,398.10" fill="none" stroke="#40d4ec" stroke-width="3.2" stroke-linejoin="round" stroke-linecap="round" />
<path d="M215.10,299.60 C216.12,300.75 219.15,304.45 221.20,306.50 C223.25,308.55 225.08,309.72 227.40,311.90 C229.72,314.08 232.53,316.78 235.10,319.60 C237.67,322.42 240.23,325.72 242.80,328.80 C245.37,331.88 247.93,335.02 250.50,338.10 C253.07,341.18 255.65,344.95 258.20,347.30 C260.75,349.65 262.90,350.18 265.80,352.20 C268.70,354.22 272.22,357.18 275.60,359.40 C278.98,361.62 282.58,363.90 286.10,365.50 C289.62,367.10 293.17,367.53 296.70,369.00 C300.23,370.47 304.80,373.12 307.30,374.30 C309.80,375.48 310.23,376.35 311.70,376.10 C313.17,375.85 314.20,373.10 316.10,372.80 C318.00,372.50 320.77,373.60 323.10,374.30 C325.43,375.00 328.05,376.70 330.10,377.00 C332.15,377.30 333.33,375.67 335.40,376.10 C337.47,376.53 341.32,379.02 342.50,379.60" fill="none" stroke="#3584d0" stroke-width="3.6" stroke-linejoin="round" stroke-linecap="round" />
<path d="M216.00,258.00 C216.33,259.33 217.25,262.33 218.00,266.00 C218.75,269.67 219.75,274.33 220.50,280.00 C221.25,285.67 221.75,294.17 222.50,300.00 C223.25,305.83 223.97,310.02 225.00,315.00 C226.03,319.98 227.25,324.52 228.70,329.90 C230.15,335.28 232.05,341.90 233.70,347.30 C235.35,352.70 236.73,358.57 238.60,362.30 C240.47,366.03 242.62,367.83 244.90,369.70 C247.18,371.57 248.98,372.03 252.30,373.50 C255.62,374.97 260.65,377.25 264.80,378.50 C268.95,379.75 271.80,380.18 277.20,381.00 C282.60,381.82 289.72,382.58 297.20,383.40 C304.68,384.22 314.63,385.07 322.10,385.90 C329.57,386.73 338.68,387.98 342.00,388.40" fill="none" stroke="#1f68c0" stroke-width="2.2" stroke-linejoin="round" stroke-linecap="round" />
<polyline points="215.30,418.00 215.30,256.50" fill="none" stroke="#1cc4de" stroke-width="1.8" stroke-linejoin="round" stroke-linecap="round" />
<path d="M215.50,256.50 C215.83,257.92 216.75,261.08 217.50,265.00 C218.25,268.92 219.17,275.03 220.00,280.00 C220.83,284.97 221.75,290.63 222.50,294.80 C223.25,298.97 223.68,301.30 224.50,305.00 C225.32,308.70 226.28,312.02 227.40,317.00 C228.52,321.98 229.95,328.60 231.20,334.90 C232.45,341.20 233.67,349.00 234.90,354.80 C236.13,360.60 236.93,364.72 238.60,369.70 C240.27,374.68 242.20,380.55 244.90,384.70 C247.60,388.85 251.45,391.78 254.80,394.60 C258.15,397.42 260.37,399.43 265.00,401.60 C269.63,403.77 276.73,406.15 282.60,407.60 C288.47,409.05 294.33,409.55 300.20,410.30 C306.07,411.05 310.75,411.52 317.80,412.10 C324.85,412.68 338.38,413.52 342.50,413.80" fill="none" stroke="#1cc4de" stroke-width="3.0" stroke-linejoin="round" stroke-linecap="round" />
<line x1="251.00" y1="272.90" x2="263.50" y2="272.90" stroke="#3584d0" stroke-width="1.2" />
<circle cx="257.2" cy="272.9" r="1.3" fill="#3584d0"/>
<line x1="251.00" y1="288.60" x2="263.50" y2="288.60" stroke="#1f68c0" stroke-width="1.2" />
<circle cx="257.2" cy="288.6" r="1.3" fill="#1f68c0"/>
<line x1="251.00" y1="304.30" x2="263.50" y2="304.30" stroke="#40d4ec" stroke-width="1.2" />
<circle cx="257.2" cy="304.3" r="1.3" fill="#40d4ec"/>
<line x1="251.00" y1="320.20" x2="263.50" y2="320.20" stroke="#1cc4de" stroke-width="1.2" />
<circle cx="257.2" cy="320.2" r="1.3" fill="#1cc4de"/>
<text x="267.80" y="276.00" font-size="8.6" fill="#3584d0" stroke="#3584d0" stroke-width="0.18" font-weight="bold" text-anchor="start" ><tspan font-style='italic'>µ</tspan>wl-<tspan>Pd</tspan><tspan font-size="5.85" dy="2.41">59</tspan><tspan dy="-2.41">Au</tspan><tspan font-size="5.85" dy="2.41">41</tspan></text>
<text x="267.80" y="291.80" font-size="8.6" fill="#1f68c0" stroke="#1f68c0" stroke-width="0.18" font-weight="bold" text-anchor="start" >CvH-<tspan>Pd</tspan><tspan font-size="5.85" dy="2.41">60</tspan><tspan dy="-2.41">Au</tspan><tspan font-size="5.85" dy="2.41">40</tspan></text>
<text x="267.80" y="307.50" font-size="8.6" fill="#40d4ec" stroke="#40d4ec" stroke-width="0.18" font-weight="bold" text-anchor="start" ><tspan font-style='italic'>µ</tspan>wl-<tspan>Pd</tspan><tspan font-size="5.85" dy="2.41">42</tspan><tspan dy="-2.41">Au</tspan><tspan font-size="5.85" dy="2.41">58</tspan></text>
<text x="267.80" y="323.40" font-size="8.6" fill="#1cc4de" stroke="#1cc4de" stroke-width="0.18" font-weight="bold" text-anchor="start" >CvH-<tspan>Pd</tspan><tspan font-size="5.85" dy="2.41">39</tspan><tspan dy="-2.41">Au</tspan><tspan font-size="5.85" dy="2.41">61</tspan></text>
<text x="344.80" y="250.00" font-size="8.0" fill="#1a1a1a" stroke="#1a1a1a" stroke-width="0.18" font-weight="bold" text-anchor="start" >(E)</text>
<line x1="386.60" y1="256.50" x2="386.60" y2="419.50" stroke="#505050" stroke-width="1.0" />
<line x1="386.60" y1="419.50" x2="482.00" y2="419.50" stroke="#505050" stroke-width="1.0" />
<line x1="383.60" y1="419.20" x2="386.60" y2="419.20" stroke="#505050" stroke-width="1.0" />
<text x="377.20" y="422.60" font-size="9.6" fill="#2a2a2a" stroke="#2a2a2a" stroke-width="0.22" text-anchor="end" >2.7</text>
<line x1="383.60" y1="392.12" x2="386.60" y2="392.12" stroke="#505050" stroke-width="1.0" />
<text x="377.20" y="395.51" font-size="9.6" fill="#2a2a2a" stroke="#2a2a2a" stroke-width="0.22" text-anchor="end" >3.2</text>
<line x1="383.60" y1="365.03" x2="386.60" y2="365.03" stroke="#505050" stroke-width="1.0" />
<text x="377.20" y="368.43" font-size="9.6" fill="#2a2a2a" stroke="#2a2a2a" stroke-width="0.22" text-anchor="end" >3.7</text>
<line x1="383.60" y1="337.94" x2="386.60" y2="337.94" stroke="#505050" stroke-width="1.0" />
<text x="377.20" y="341.34" font-size="9.6" fill="#2a2a2a" stroke="#2a2a2a" stroke-width="0.22" text-anchor="end" >4.2</text>
<line x1="383.60" y1="310.86" x2="386.60" y2="310.86" stroke="#505050" stroke-width="1.0" />
<text x="377.20" y="314.26" font-size="9.6" fill="#2a2a2a" stroke="#2a2a2a" stroke-width="0.22" text-anchor="end" >4.7</text>
<line x1="383.60" y1="283.77" x2="386.60" y2="283.77" stroke="#505050" stroke-width="1.0" />
<text x="377.20" y="287.17" font-size="9.6" fill="#2a2a2a" stroke="#2a2a2a" stroke-width="0.22" text-anchor="end" >5.2</text>
<line x1="383.60" y1="256.69" x2="386.60" y2="256.69" stroke="#505050" stroke-width="1.0" />
<text x="377.20" y="260.09" font-size="9.6" fill="#2a2a2a" stroke="#2a2a2a" stroke-width="0.22" text-anchor="end" >5.7</text>
<line x1="386.50" y1="419.50" x2="386.50" y2="422.30" stroke="#505050" stroke-width="1.0" />
<text x="386.50" y="435.60" font-size="9.4" fill="#2a2a2a" stroke="#2a2a2a" stroke-width="0.22" text-anchor="middle" >3.28</text>
<line x1="417.50" y1="419.50" x2="417.50" y2="422.30" stroke="#505050" stroke-width="1.0" />
<text x="417.50" y="435.60" font-size="9.4" fill="#2a2a2a" stroke="#2a2a2a" stroke-width="0.22" text-anchor="middle" >3.38</text>
<line x1="448.70" y1="419.50" x2="448.70" y2="422.30" stroke="#505050" stroke-width="1.0" />
<text x="448.70" y="435.60" font-size="9.4" fill="#2a2a2a" stroke="#2a2a2a" stroke-width="0.22" text-anchor="middle" >3.48</text>
<line x1="479.40" y1="419.50" x2="479.40" y2="422.30" stroke="#505050" stroke-width="1.0" />
<text x="479.40" y="435.60" font-size="9.4" fill="#2a2a2a" stroke="#2a2a2a" stroke-width="0.22" text-anchor="middle" >3.58</text>
<text x="435.00" y="446.40" font-size="8.9" fill="#2a2a2a" stroke="#2a2a2a" stroke-width="0.22" text-anchor="middle" >1000/<tspan font-style='italic'>T</tspan> (K<tspan font-size='5.8' dy='-3.2'>−1</tspan><tspan dy='3.2'>)</tspan></text>
<text x="359.20" y="334.00" font-size="9.4" fill="#2a2a2a" stroke="#2a2a2a" stroke-width="0.22" text-anchor="middle" transform="rotate(-90 359.20 334.00)" ><tspan font-style='italic'>Ln</tspan> Activity</text>
<line x1="391.90" y1="260.30" x2="479.50" y2="321.54" stroke="#e0287a" stroke-width="1.0" stroke-dasharray="2 1.5"/>
<circle cx="391.9" cy="261.9" r="2.0" fill="white" stroke="#e0287a" stroke-width="1.0"/>
<circle cx="409.3" cy="271.2" r="2.0" fill="white" stroke="#e0287a" stroke-width="1.0"/>
<circle cx="434.2" cy="289.1" r="2.0" fill="white" stroke="#e0287a" stroke-width="1.0"/>
<circle cx="456.6" cy="304.8" r="2.0" fill="white" stroke="#e0287a" stroke-width="1.0"/>
<circle cx="479.5" cy="322.7" r="2.0" fill="white" stroke="#e0287a" stroke-width="1.0"/>
<line x1="391.90" y1="259.18" x2="479.50" y2="325.21" stroke="#26337f" stroke-width="1.0" stroke-dasharray="2 1.5"/>
<circle cx="391.9" cy="260" r="2.0" fill="white" stroke="#26337f" stroke-width="1.0"/>
<circle cx="409.3" cy="272.4" r="2.0" fill="white" stroke="#26337f" stroke-width="1.0"/>
<circle cx="434.2" cy="289.3" r="2.0" fill="white" stroke="#26337f" stroke-width="1.0"/>
<circle cx="456.6" cy="308" r="2.0" fill="white" stroke="#26337f" stroke-width="1.0"/>
<circle cx="479.5" cy="326" r="2.0" fill="white" stroke="#26337f" stroke-width="1.0"/>
<line x1="391.90" y1="275.39" x2="479.50" y2="337.76" stroke="#3a8ad6" stroke-width="1.0" stroke-dasharray="2 1.5"/>
<circle cx="391.9" cy="274.4" r="2.0" fill="white" stroke="#3a8ad6" stroke-width="1.0"/>
<circle cx="409.3" cy="288.6" r="2.0" fill="white" stroke="#3a8ad6" stroke-width="1.0"/>
<circle cx="434.2" cy="306.8" r="2.0" fill="white" stroke="#3a8ad6" stroke-width="1.0"/>
<circle cx="456.6" cy="320.2" r="2.0" fill="white" stroke="#3a8ad6" stroke-width="1.0"/>
<circle cx="479.5" cy="337.9" r="2.0" fill="white" stroke="#3a8ad6" stroke-width="1.0"/>
<line x1="391.90" y1="299.11" x2="479.50" y2="366.86" stroke="#222222" stroke-width="1.0" stroke-dasharray="2 1.5"/>
<path d="M389.7,301.5 L391.9,297.7 L394.09999999999997,301.5 Z" fill="white" stroke="#222222" stroke-width="0.9"/>
<path d="M407.1,313.4 L409.3,309.59999999999997 L411.5,313.4 Z" fill="white" stroke="#222222" stroke-width="0.9"/>
<path d="M432.0,333.4 L434.2,329.59999999999997 L436.4,333.4 Z" fill="white" stroke="#222222" stroke-width="0.9"/>
<path d="M454.40000000000003,351.09999999999997 L456.6,347.29999999999995 L458.8,351.09999999999997 Z" fill="white" stroke="#222222" stroke-width="0.9"/>
<path d="M477.3,368.59999999999997 L479.5,364.79999999999995 L481.7,368.59999999999997 Z" fill="white" stroke="#222222" stroke-width="0.9"/>
<line x1="391.90" y1="317.67" x2="479.50" y2="390.83" stroke="#22cfe6" stroke-width="1.0" stroke-dasharray="2 1.5"/>
<circle cx="391.9" cy="316" r="2.0" fill="white" stroke="#22cfe6" stroke-width="1.0"/>
<circle cx="409.3" cy="332.7" r="2.0" fill="white" stroke="#22cfe6" stroke-width="1.0"/>
<circle cx="434.2" cy="354.9" r="2.0" fill="white" stroke="#22cfe6" stroke-width="1.0"/>
<circle cx="456.6" cy="372.8" r="2.0" fill="white" stroke="#22cfe6" stroke-width="1.0"/>
<circle cx="479.5" cy="389" r="2.0" fill="white" stroke="#22cfe6" stroke-width="1.0"/>
<line x1="391.90" y1="334.80" x2="479.50" y2="413.48" stroke="#9a4fc6" stroke-width="1.0" stroke-dasharray="2 1.5"/>
<circle cx="391.9" cy="332.2" r="2.0" fill="white" stroke="#9a4fc6" stroke-width="1.0"/>
<circle cx="409.3" cy="352.4" r="2.0" fill="white" stroke="#9a4fc6" stroke-width="1.0"/>
<circle cx="434.2" cy="374.3" r="2.0" fill="white" stroke="#9a4fc6" stroke-width="1.0"/>
<circle cx="456.6" cy="393.8" r="2.0" fill="white" stroke="#9a4fc6" stroke-width="1.0"/>
<circle cx="479.5" cy="411.7" r="2.0" fill="white" stroke="#9a4fc6" stroke-width="1.0"/>
<text x="484.60" y="320.30" font-size="8.6" fill="#e0287a" stroke="#e0287a" stroke-width="0.22" text-anchor="start" ><tspan font-weight="bold"><tspan>Pd</tspan><tspan font-size="5.85" dy="2.41">90</tspan><tspan dy="-2.41">Au</tspan><tspan font-size="5.85" dy="2.41">10</tspan></tspan><tspan>; 33.4</tspan></text>
<text x="484.60" y="332.20" font-size="8.6" fill="#26337f" stroke="#26337f" stroke-width="0.22" text-anchor="start" ><tspan font-weight="bold"><tspan>Pd</tspan><tspan font-size="5.85" dy="2.41">71</tspan><tspan dy="-2.41">Au</tspan><tspan font-size="5.85" dy="2.41">29</tspan></tspan><tspan>; 35.8</tspan></text>
<text x="486.20" y="345.60" font-size="8.6" fill="#3a8ad6" stroke="#3a8ad6" stroke-width="0.22" text-anchor="start" ><tspan font-weight="bold"><tspan>Pd</tspan><tspan font-size="5.85" dy="2.41">59</tspan><tspan dy="-2.41">Au</tspan><tspan font-size="5.85" dy="2.41">41</tspan></tspan><tspan>; 33.9</tspan></text>
<text x="484.30" y="373.60" font-size="8.6" fill="#222222" stroke="#222222" stroke-width="0.22" text-anchor="start" ><tspan font-weight="bold"><tspan>Pd</tspan><tspan font-size="5.85" dy="2.41">100</tspan></tspan><tspan>; 36.2</tspan></text>
<text x="484.00" y="397.20" font-size="8.6" fill="#22cfe6" stroke="#22cfe6" stroke-width="0.22" text-anchor="start" ><tspan font-weight="bold"><tspan>Pd</tspan><tspan font-size="5.85" dy="2.41">42</tspan><tspan dy="-2.41">Au</tspan><tspan font-size="5.85" dy="2.41">58</tspan></tspan><tspan>; 39.3</tspan></text>
<text x="483.30" y="416.70" font-size="8.6" fill="#9a4fc6" stroke="#9a4fc6" stroke-width="0.22" text-anchor="start" ><tspan font-weight="bold"><tspan>Pd</tspan><tspan font-size="5.85" dy="2.41">80</tspan><tspan dy="-2.41">Au</tspan><tspan font-size="5.85" dy="2.41">20</tspan></tspan><tspan>; 42.2</tspan></text>
</svg>
</body></html>
